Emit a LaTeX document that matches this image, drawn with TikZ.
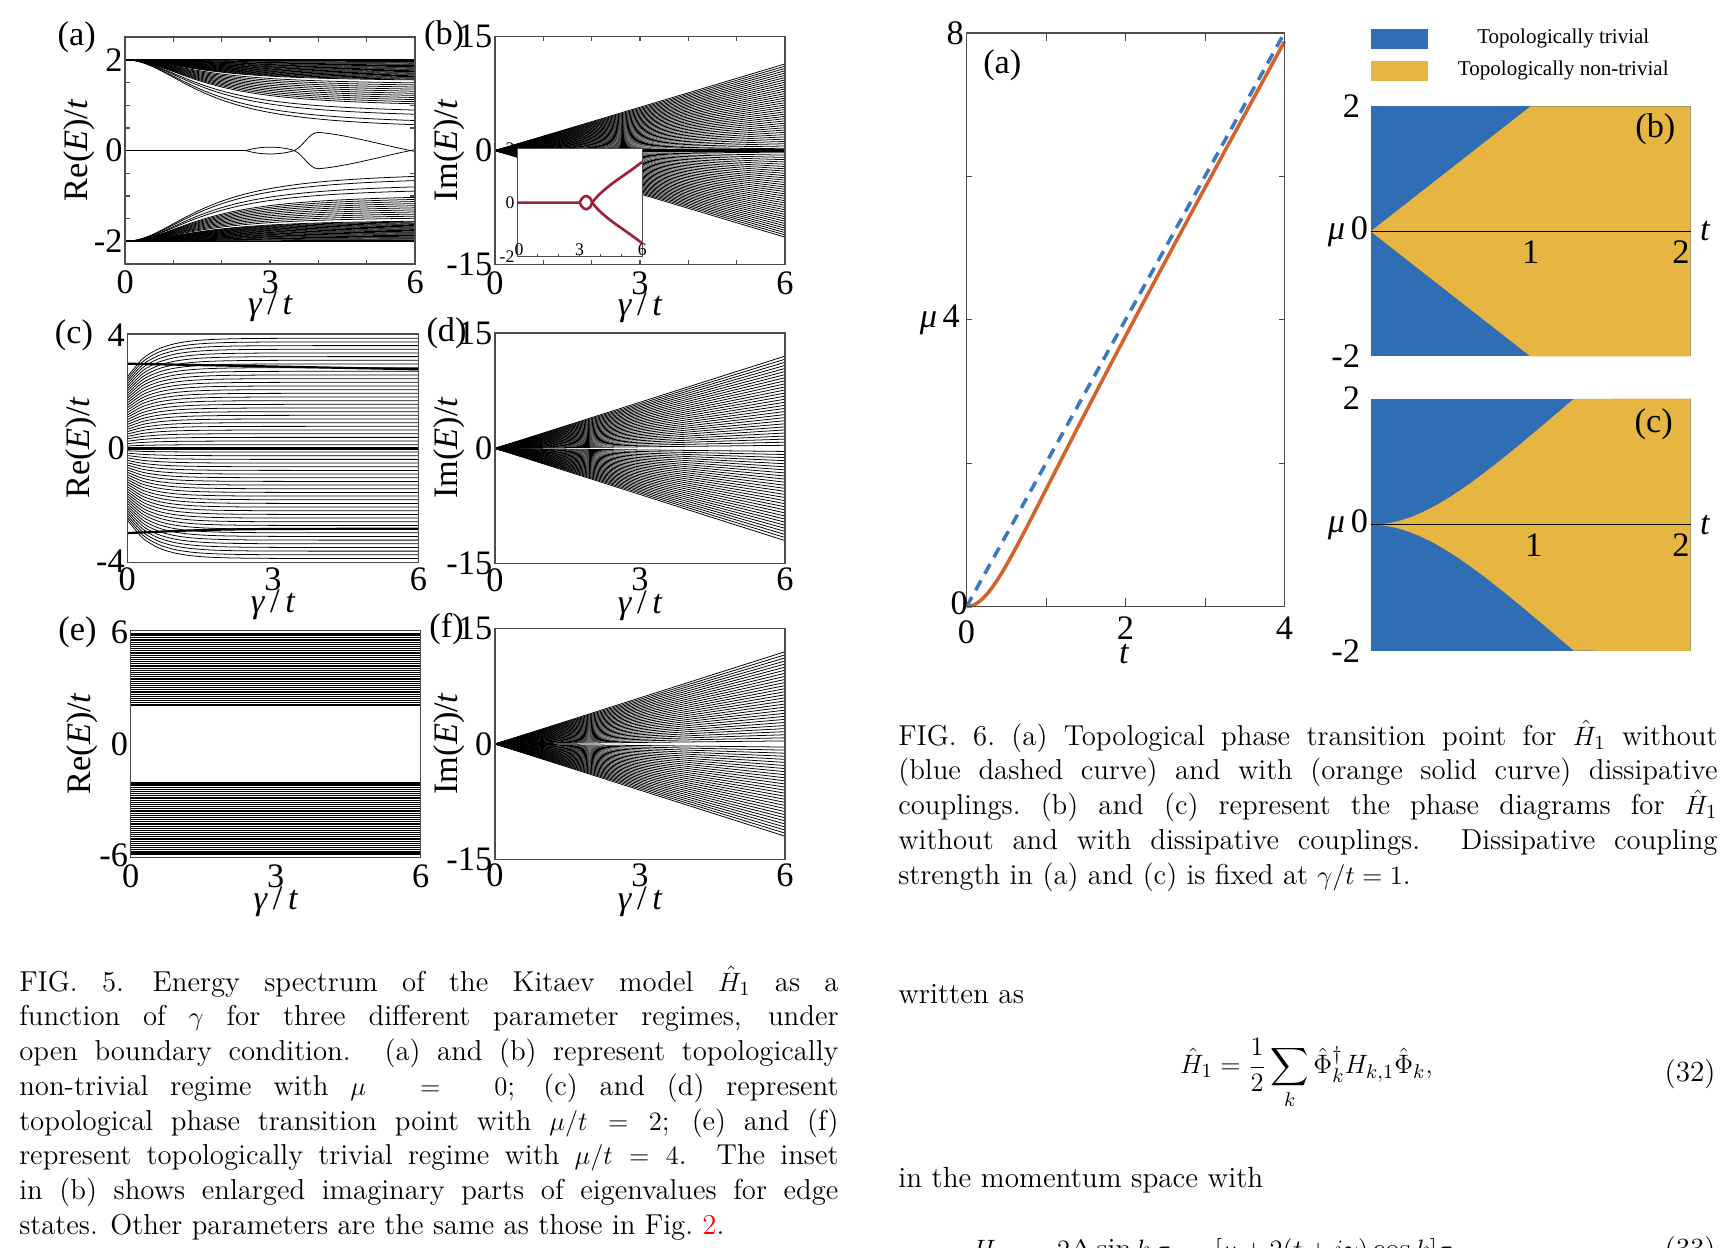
\documentclass[tikz,border=0pt]{standalone}
\usepackage{amsmath}
\usepackage{fontspec}
\newfontfamily\tms{Liberation Serif}
\definecolor{tblue}{HTML}{2F6DB5}
\definecolor{torange}{HTML}{E6B542}
\definecolor{corange}{HTML}{D5622A}
\definecolor{dblue}{HTML}{3A78C0}
\definecolor{inred}{HTML}{9B2335}
\hyphenpenalty=10000
\tolerance=10000
\tikzset{
 lbl/.style={font=\tms\fontsize{15.5}{15.5}\selectfont, inner sep=1pt},
 sml/.style={font=\tms\fontsize{8}{8}\selectfont, inner sep=1pt},
 frm/.style={draw=black!70, line width=0.6pt},
 spec/.style={line width=0.35pt, black},
 captext/.style={font=\fontsize{13}{15.7}\selectfont, text width=370pt, align=justify, inner sep=0pt, anchor=north west},
 bodytext/.style={font=\fontsize{13.2}{15.8}\selectfont, inner sep=0pt},
}
\newcommand{\glab}{{\itshape γ}\,/\,{\itshape t}}
\begin{document}
\begin{tikzpicture}[x=0.5pt,y=-0.5pt]
\useasboundingbox (0,0) rectangle (1559,1127);
\clip (0,0) rectangle (1559,1127);
% ===== FIG 5 panel (a)
\begin{scope}[shift={(113,136)},x=21.83pt,y=20.5pt]
 \foreach \a in {0,0.02,...,0.5,0.55,0.6,...,1.1,1.2,1.3,1.45,1.55}{
  \draw[spec] plot[domain=0:6,samples=30,smooth] (\x,{2-\a*\x*\x/(\x*\x+3)});
  \draw[spec] plot[domain=0:6,samples=30,smooth] (\x,{-2+\a*\x*\x/(\x*\x+3)});}
 \draw[spec] (0,0) -- (2.5,0) .. controls (2.8,0.1) and (3.2,0.1) .. (3.5,0) .. controls (3.7,-0.1) and (3.8,-0.4) .. (4,-0.4) .. controls (4.6,-0.35) and (5.4,-0.1) .. (6,0.02);
 \draw[spec] (2.5,0) .. controls (2.8,-0.1) and (3.2,-0.1) .. (3.5,0) .. controls (3.7,0.1) and (3.8,0.4) .. (4,0.4) .. controls (4.6,0.35) and (5.4,0.1) .. (6,-0.02);
 \draw[frm] (0,-2.5) rectangle (6,2.5);
 \foreach \i in {1,...,5}{\draw[frm] (\i,-2.5)--++(0,0.1) (\i,2.5)--++(0,-0.1);}
 \foreach \j in {-1.5,-1,-0.5,0.5,1,1.5}{\draw[frm] (0,\j)--++(0.1,0) (6,\j)--++(-0.1,0);}
 \node[lbl,anchor=east] (a2) at (0,2) {2};
 \node[lbl,anchor=east] (a0) at (0,0) {0};
 \node[lbl,anchor=east] (am) at (0,-2) {-2};
 \node[lbl] (ax0) at (0,-2.9) {0};\node[lbl] (ax3) at (3,-2.9) {3};\node[lbl] (ax6) at (6,-2.9) {6};
 \node[lbl] (axl) at (3,-3.45) {\glab};
 \node[lbl,rotate=90] (ayl) at (-0.95,0) {Re({\itshape E})/{\itshape t}};
 \node[lbl] (ap) at (-1,2.5) {(a)};
\end{scope}
% ===== panel (b)
\begin{scope}[shift={(447,136)},x=21.83pt,y=3.43pt]
 \foreach \v in {0.3,0.6,...,11.6}{\draw[spec] (0,0)--(6,\v); \draw[spec] (0,0)--(6,-\v);}
 \draw[line width=1.5pt] (0,0)--(6,0);
 \draw[frm] (0,-15) rectangle (6,15);
 \foreach \i in {1,...,5}{\draw[frm] (\i,-15)--++(0,0.6) (\i,15)--++(0,-0.6);}
 \node[lbl,anchor=east] (b2) at (0,15) {15};
 \node[lbl,anchor=east] (b0) at (0,0) {0};
 \node[lbl,anchor=east] (bm) at (0,-15) {-15};
 \node[lbl] (bx0) at (0,-17.5) {0};\node[lbl] (bx3) at (3,-17.5) {3};\node[lbl] (bx6) at (6,-17.5) {6};
 \node[lbl] (bxl) at (3,-20.7) {\glab};
 \node[lbl,rotate=90] (byl) at (-0.95,0) {Im({\itshape E})/{\itshape t}};
 \node[lbl] (bp) at (-1.05,15) {(b)};
\end{scope}
% inset
\begin{scope}[shift={(467,183)},x=9.42pt,y=12.25pt]
 \fill[white] (0,-2) rectangle (6,2);
 \draw[inred,line width=1.2pt] (0,0)--(3,0) .. controls (3.2,0.35) and (3.5,0.3) .. (3.6,0) .. controls (4.2,-0.6) and (5,-0.9) .. (6,-1.5);
 \draw[inred,line width=1.2pt] (3,0) .. controls (3.2,-0.35) and (3.5,-0.3) .. (3.6,0) .. controls (4.2,0.6) and (5,0.9) .. (6,1.5);
 \draw[frm,line width=0.4pt] (0,-2) rectangle (6,2);
 \foreach \i in {1,...,5}{\draw[frm,line width=0.4pt] (\i,-2)--++(0,0.12);}
 \node[sml,anchor=east] (i2) at (0,2) {2};\node[sml,anchor=east] (i0) at (0,0) {0};\node[sml,anchor=east] (im) at (0,-2) {-2};
 \node[sml,anchor=south] (ix0) at (0.1,-2.05) {0};\node[sml,anchor=south] (ix3) at (3,-2.05) {3};\node[sml,anchor=south] (ix6) at (6,-2.05) {6};
\end{scope}
% ===== panel (c)
\begin{scope}[shift={(115,405)},x=21.92pt,y=12.75pt]
 \foreach \v in {0.13,0.26,...,3.95}{
  \draw[spec] plot[domain=0:6,samples=20,smooth] (\x,{\v*(1-0.35*exp(-2*\x))});
  \draw[spec] plot[domain=0:6,samples=20,smooth] (\x,{-\v*(1-0.35*exp(-2*\x))});}
 \draw[line width=1.4pt] (0,0)--(6,0);
 \draw[line width=1pt] (0,-3) .. controls (2,-2.85) .. (6,-2.85);
 \draw[line width=1pt] (0,3) .. controls (3,2.9) .. (6,2.8);
 \draw[frm] (0,-4.05) rectangle (6,4.05);
 \node[lbl,anchor=east] (c2) at (0,4) {4};
 \node[lbl,anchor=east] (c0) at (0,0) {0};
 \node[lbl,anchor=east] (cm) at (0,-4) {-4};
 \node[lbl] (cx0) at (0,-4.65) {0};\node[lbl] (cx3) at (3,-4.65) {3};\node[lbl] (cx6) at (6,-4.65) {6};
 \node[lbl] (cxl) at (3,-5.55) {\glab};
 \node[lbl,rotate=90] (cyl) at (-0.95,0) {Re({\itshape E})/{\itshape t}};
 \node[lbl] (cp) at (-1.1,4) {(c)};
\end{scope}
% ===== panels (d),(f)
\foreach \cy/\nm in {405/d,672/f}{
\begin{scope}[shift={(447,\cy)},x=21.83pt,y=3.47pt]
 \foreach \v in {0.4,0.8,...,12.2}{\draw[spec] (0,0)--(6,\v); \draw[spec] (0,0)--(6,-\v);}
 \draw[frm] (0,-15) rectangle (6,15);
 \node[lbl,anchor=east] (\nm2) at (0,15) {15};
 \node[lbl,anchor=east] (\nm0) at (0,0) {0};
 \node[lbl,anchor=east] (\nm m) at (0,-15) {-15};
 \node[lbl] (\nm x0) at (0,-17.1) {0};\node[lbl] (\nm x3) at (3,-17.1) {3};\node[lbl] (\nm x6) at (6,-17.1) {6};
 \node[lbl] (\nm xl) at (3,-20.5) {\glab};
 \node[lbl,rotate=90] (\nm yl) at (-0.95,0) {Im({\itshape E})/{\itshape t}};
 \node[lbl] (\nm p) at (-1.0,15) {(\nm)};
\end{scope}}
% ===== panel (e)
\begin{scope}[shift={(118,672)},x=21.83pt,y=8.4pt]
 \foreach \v in {2.05,2.15,...,5.95}{\draw[spec] (0,\v)--(6,\v); \draw[spec] (0,-\v)--(6,-\v);}
 \draw[line width=1.2pt] (0,2.1)--(6,2.1) (0,-2.1)--(6,-2.1) (0,5.9)--(6,5.9) (0,-5.9)--(6,-5.9);
 \draw[frm] (0,-6.1) rectangle (6,6.1);
 \node[lbl,anchor=east] (e2) at (0,6) {6};
 \node[lbl,anchor=east] (e0) at (0,0) {0};
 \node[lbl,anchor=east] (em) at (0,-6) {-6};
 \node[lbl] (ex0) at (0,-7.1) {0};\node[lbl] (ex3) at (3,-7.1) {3};\node[lbl] (ex6) at (6,-7.1) {6};
 \node[lbl] (exl) at (3,-8.5) {\glab};
 \node[lbl,rotate=90] (eyl) at (-1.0,0) {Re({\itshape E})/{\itshape t}};
 \node[lbl] (ep) at (-1.1,6) {(e)};
\end{scope}
% ===== FIG 6 (a)
\begin{scope}[shift={(873,548)},x=35.9pt,y=32.4pt]
 \draw[dblue,line width=1.6pt,dash pattern=on 5pt off 3.5pt] (0,0)--(4,8);
 \draw[corange,line width=1.6pt] plot[domain=0:4,samples=50,smooth] (\x,{2*\x*\x/sqrt(\x*\x+0.5)});
 \draw[black!70,line width=0.7pt] (0,0) rectangle (4,8);
 \foreach \i in {1,2,3}{\draw[black!70] (\i,0)--++(0,0.12) (\i,8)--++(0,-0.12);}
 \foreach \j in {2,4,6}{\draw[black!70] (0,\j)--++(0.07,0) (4,\j)--++(-0.07,0);}
 \node[lbl,anchor=east] (g8) at (0,8) {8};
 \node[lbl,anchor=east] (g4) at (-0.05,4) {{\itshape μ}\,4};
 \node[lbl,anchor=east] (g0) at (0.05,0.05) {0};
 \node[lbl] (gx0) at (0,-0.35) {0};\node[lbl] (gx2) at (2,-0.3) {2};\node[lbl] (gx4) at (4,-0.3) {4};
 \node[lbl] (gxl) at (1.98,-0.66) {\itshape t};
 \node[lbl] (gp) at (0.45,7.55) {(a)};
\end{scope}
% legend
\fill[tblue] (1238,26) rectangle (1290,44);
\fill[torange] (1238,55) rectangle (1290,73);
\node[font=\tms\fontsize{9.5}{10}\selectfont] (lg1) at (1412,35) {Topologically trivial};
\node[font=\tms\fontsize{9.5}{10}\selectfont] (lg2) at (1412,64) {Topologically non-trivial};
% (b)
\begin{scope}[shift={(1238,209)},x=72.25pt,y=28.25pt]
 \fill[tblue] (0,-2) rectangle (2,2);
 \fill[torange] (0,0)--(1,2)--(2,2)--(2,-2)--(1,-2)--cycle;
 \draw[line width=0.6pt] (0,0)--(2,0);
 \node[lbl,anchor=east] (h2) at (-0.05,2) {2};
 \node[lbl,anchor=east] (h0) at (0,0) {{\itshape μ}\,0};
 \node[lbl,anchor=east] (hm) at (-0.05,-2) {-2};
 \node[lbl] (h1) at (1,-0.33) {1};\node[lbl] (h22) at (1.94,-0.33) {2};
 \node[lbl] (ht) at (2.09,0) {\itshape t};
 \node[lbl] (hp) at (1.78,1.63) {(b)};
\end{scope}
% (c)
\begin{scope}[shift={(1238,474)},x=72.25pt,y=28.5pt]
 \fill[tblue] (0,-2) rectangle (2,2);
 \fill[torange] plot[domain=0:1.27,samples=40,smooth] (\x,{2*\x*\x/sqrt(\x*\x+1)}) -- (2,2) -- (2,-2) -- plot[domain=1.27:0,samples=40,smooth] (\x,{-2*\x*\x/sqrt(\x*\x+1)}) -- cycle;
 \draw[line width=0.6pt] (0,0)--(2,0);
 \node[lbl,anchor=east] (k2) at (-0.05,2) {2};
 \node[lbl,anchor=east] (k0) at (0,0) {{\itshape μ}\,0};
 \node[lbl,anchor=east] (km) at (-0.05,-2) {-2};
 \node[lbl] (k1) at (1.02,-0.32) {1};\node[lbl] (k22) at (1.94,-0.32) {2};
 \node[lbl] (kt) at (2.09,0) {\itshape t};
 \node[lbl] (kp) at (1.77,1.6) {(c)};
\end{scope}
% ===== captions
\node[captext] (c6) at (811,650) {FIG. 6.\ (a) Topological phase transition point for $\hat H_1$ without\linebreak (blue dashed curve) and with (orange solid curve) dissipative\linebreak couplings.\ (b) and (c) represent the phase diagrams for $\hat H_1$\linebreak without and with dissipative couplings. Dissipative coupling\linebreak strength in (a) and (c) is fixed at $\gamma/t=1$.};
\node[captext] (c5) at (17,872) {FIG. 5.\quad Energy spectrum of the Kitaev model $\hat H_1$ as a\linebreak function of $\gamma$ for three different parameter regimes, under\linebreak open boundary condition. (a) and (b) represent topologically\linebreak non-trivial regime with $\mu\;=\;0$; (c) and (d) represent\linebreak topological phase transition point with $\mu/t=2$; (e) and (f)\linebreak represent topologically trivial regime with $\mu/t=4$. The inset\linebreak in (b) shows enlarged imaginary parts of eigenvalues for edge\linebreak states. Other parameters are the same as those in Fig.~\textcolor{red}{2}.};
\node[bodytext,anchor=west] (wa) at (811,898) {written as};
\node[bodytext] (eq32) at (1180,970) {$\displaystyle \hat H_1=\frac{1}{2}\sum_k \hat\Phi_k^\dagger H_{k,1}\hat\Phi_k,$};
\node[bodytext,anchor=east] (n32) at (1550,970) {(32)};
\node[bodytext,anchor=west] (ms) at (811,1066) {in the momentum space with};
\node[bodytext,anchor=base] (eq33) at (1100,1137) {$H_{k,1}=2\Delta\sin k\,\sigma_x-[\mu+2(t+i\gamma)\cos k]\sigma_z$};
\node[bodytext,anchor=base east] (n33) at (1550,1137) {(33)};
\end{tikzpicture}
\end{document}
